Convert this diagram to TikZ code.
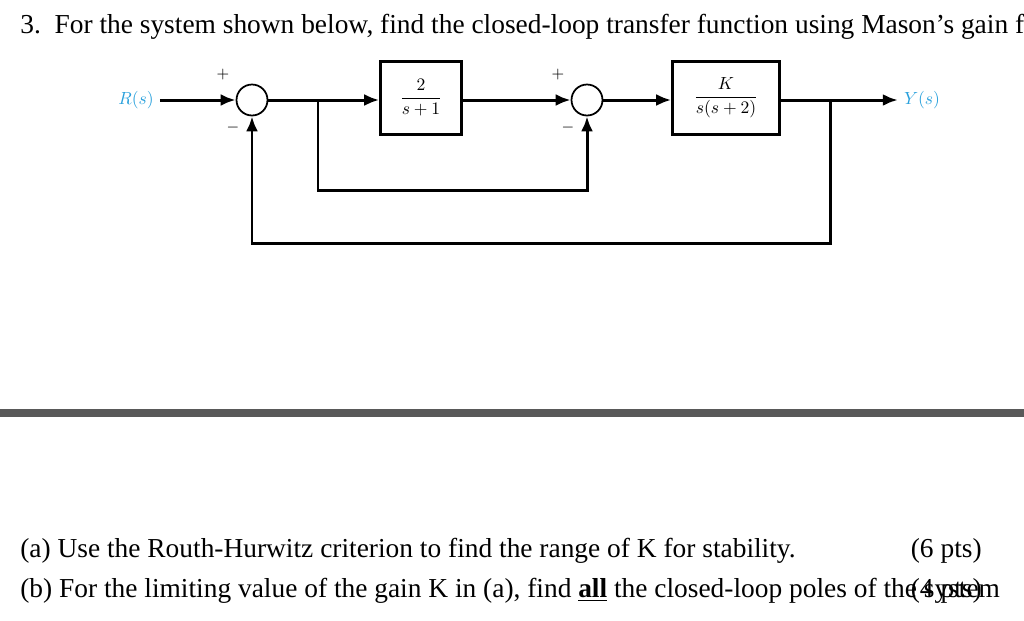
\documentclass[tikz,border=0pt]{standalone}
\usepackage{amsmath}
\usepackage{fontspec}
\setmainfont{Liberation Serif}
\usetikzlibrary{arrows.meta,positioning}
\definecolor{sigblue}{RGB}{40,160,220}
\tikzset{
  blk/.style={draw,line width=1.5pt,minimum width=1.62cm,minimum height=1.46cm,inner sep=0pt},
  sumj/.style={draw,circle,line width=1pt,minimum size=0.62cm,inner sep=0pt},
  sig/.style={line width=1.7pt},
  arr/.style={sig,-{Latex[length=3mm,width=2.4mm]}},
  sgn/.style={font=\small},
  txt/.style={inner sep=0pt,font=\fontsize{15.6}{18}\selectfont}
}
\begin{document}
\begin{tikzpicture}[x=0.02cm,y=-0.02cm]
  \useasboundingbox (0,0) rectangle (1024,620);
  \node[txt,anchor=base west] (title) at (20,33) {3.\ \ For the system shown below, find the closed-loop transfer function using Mason's gain formula.};

  % forward path
  \node[text=sigblue] (R) at (136,100) {$R(s)$};
  \node[sumj] (s1) at (252,100) {};
  \node[blk] (G1) at (421,98) {$\dfrac{2}{s+1}$};
  \node[sumj] (s2) at (587,100) {};
  \node[blk,minimum width=2.14cm] (G2) at (726,98) {$\dfrac{K}{s(s+2)}$};
  \node[text=sigblue] (Y) at (922,100) {$Y(s)$};

  \coordinate (j1) at (318,100);
  \coordinate (j2) at (830,100);
  \coordinate (c1) at (318,190);
  \coordinate (c2) at (587,190);
  \coordinate (c3) at (830,243);
  \coordinate (c4) at (252,243);

  \draw[arr] (R.east) -- (s1.west);
  \draw[sig] (s1.east) -- (j1);
  \draw[arr] (j1) -- (G1.west |- j1);
  \draw[arr] (G1.east |- s2) -- (s2.west);
  \draw[arr] (s2.east) -- (G2.west |- s2);
  \draw[sig] (G2.east |- j2) -- (j2);
  \draw[arr] (j2) -- (Y.west);

  % loops
  \draw[arr] (j1) -- (c1) -- (c2) -- (s2.south);
  \draw[arr] (j2) -- (c3) -- (c4) -- (s1.south);

  % signs
  \node[sgn] (p1) at (223,75) {$+$};
  \node[sgn] (m1) at (233,128) {$-$};
  \node[sgn] (p2) at (558,75) {$+$};
  \node[sgn] (m2) at (568,128) {$-$};

  % separator
  \fill[black!65] (0,409) rectangle (1024,417);

  \node[txt,anchor=base west] (qa) at (20,557) {(a) Use the Routh-Hurwitz criterion to find the range of K for stability.};
  \node[txt,anchor=base west] (qb) at (20,597) {(b) For the limiting value of the gain K in (a), find \textbf{\underline{all}} the closed-loop poles of the system};
  \node[txt,anchor=base east] (pa) at (982,557) {(6 pts)};
  \node[txt,anchor=base east] (pb) at (982,597) {(4 pts)};
\end{tikzpicture}
\end{document}
